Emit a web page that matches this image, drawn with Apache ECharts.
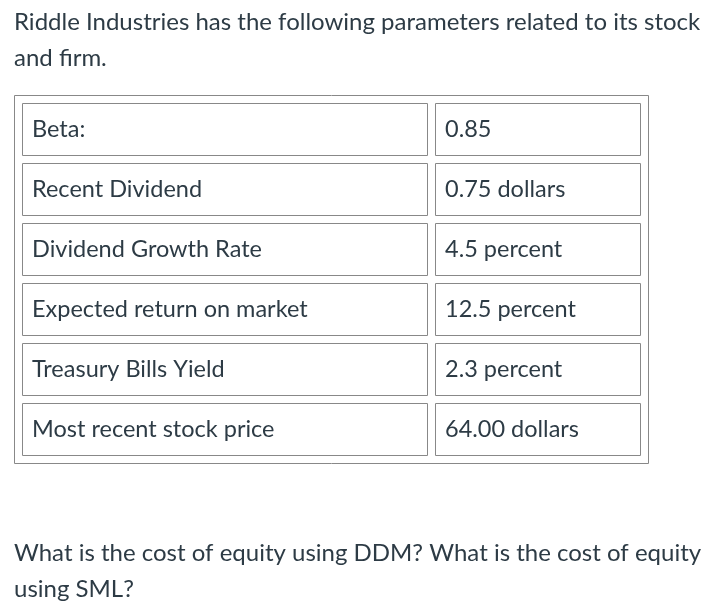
<!DOCTYPE html>
<html>
<head>
<meta charset="utf-8">
<script src="https://cdn.jsdelivr.net/npm/echarts@6/dist/echarts.min.js"></script>
<style>html,body{margin:0;padding:0;background:#fff}#main{width:712px;height:604px}</style>
</head>
<body>
<div id="main"></div>
<script>
// 题目文字与表格内容
var intro = ['Riddle Industries has the following parameters related to its stock', 'and firm.'];
var labels = ['Beta:', 'Recent Dividend', 'Dividend Growth Rate', 'Expected return on market', 'Treasury Bills Yield', 'Most recent stock price'];
var values = ['0.85', '0.75 dollars', '4.5 percent', '12.5 percent', '2.3 percent', '64.00 dollars'];
var question = ['What is the cost of equity using DDM? What is the cost of equity', 'using SML?'];

var myChart = echarts.init(document.getElementById('main'));
var font = 'Lato, "Open Sans", sans-serif';
var ink = '#2d3b45';
var els = [];

intro.forEach(function (t, i) {
    els.push({type: 'text', x: 14, y: 22 + i * 36, style: {text: t, font: '24px ' + font, fill: ink, verticalAlign: 'middle'}});
});

// 外框
els.push({type: 'rect', shape: {x: 14.5, y: 95.5, width: 634, height: 368}, style: {fill: 'none', stroke: '#888', lineWidth: 1}});

labels.forEach(function (t, i) {
    var y = 103.5 + i * 60;
    els.push({type: 'rect', shape: {x: 22.5, y: y, width: 405, height: 52}, style: {fill: 'none', stroke: '#888', lineWidth: 1}});
    els.push({type: 'rect', shape: {x: 435.5, y: y, width: 205, height: 52}, style: {fill: 'none', stroke: '#888', lineWidth: 1}});
    els.push({type: 'text', x: 32, y: y + 26, style: {text: t, font: '23.5px ' + font, fill: ink, verticalAlign: 'middle'}});
    els.push({type: 'text', x: 445, y: y + 26, style: {text: values[i], font: '23.5px ' + font, fill: ink, verticalAlign: 'middle'}});
});

question.forEach(function (t, i) {
    els.push({type: 'text', x: 14, y: 553 + i * 36, style: {text: t, font: '24px ' + font, fill: ink, verticalAlign: 'middle'}});
});

myChart.setOption({animation: false, graphic: {elements: els}});
</script>
</body>
</html>
